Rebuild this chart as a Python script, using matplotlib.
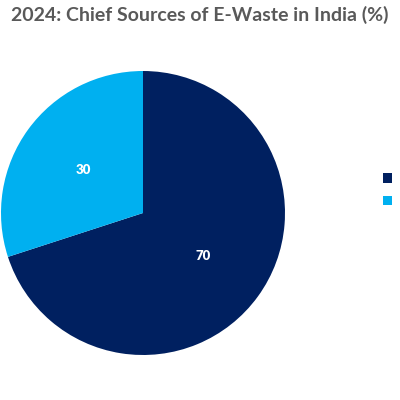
import matplotlib
matplotlib.use("Agg")
import matplotlib.pyplot as plt
from matplotlib.patches import Patch

title = "2024: Chief Sources of E-Waste in India (%)"
values = [70, 30]
value_labels = ["70", "30"]
colors = ["#002060", "#00B0F0"]

fig = plt.figure(figsize=(4, 4), dpi=100)
ax = fig.add_axes([0.0025, 0.1125, 0.71, 0.71])
wedges, texts = ax.pie(values, colors=colors, startangle=90, counterclock=False,
                       labels=value_labels, labeldistance=0.52, radius=1.0,
                       textprops=dict(color="white", fontsize=9.5, fontweight="heavy",
                                      family=["Lato", "DejaVu Sans"]))
for t in texts:
    t.set_ha("center")
    t.set_va("center")
ax.set_xlim(-1, 1)
ax.set_ylim(-1, 1)
ax.set_aspect("equal")
ax.axis("off")

fig.text(0.5, 0.962, title, ha="center", va="center", fontsize=14,
         fontweight="bold", color="#595959", family=["Lato", "DejaVu Sans"])

handles = [Patch(facecolor=c, edgecolor="none") for c in colors]
fig.legend(handles, ["", ""], loc="center left", bbox_to_anchor=(0.9575, 0.525),
           frameon=False, handlelength=0.65, handleheight=0.65,
           labelspacing=0.6, handletextpad=0.3, borderpad=0, borderaxespad=0)

fig.savefig("out.png", dpi=100, facecolor="white")
